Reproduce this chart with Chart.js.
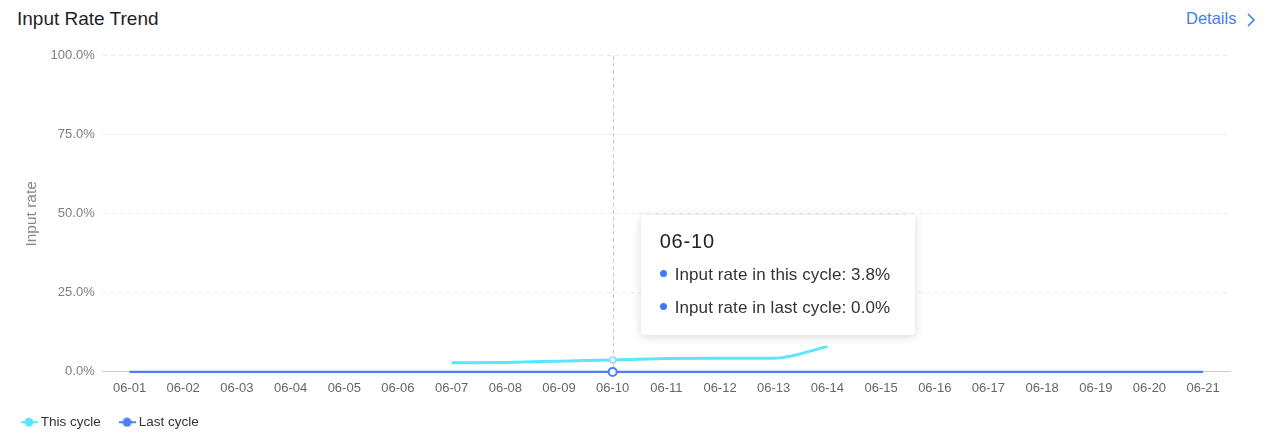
<!DOCTYPE html>
<html>
<head>
<meta charset="utf-8">
<script src="https://cdn.jsdelivr.net/npm/chart.js@4/dist/chart.umd.min.js"></script>
<style>
  html, body { margin:0; padding:0; background:#fff; width:1280px; height:445px; overflow:hidden; font-family:"Liberation Sans", Arial, sans-serif; }
  #title { position:absolute; left:17px; top:8px; font-size:19px; color:#1f1f1f; }
  #details { position:absolute; left:1186px; top:9px; font-size:16.5px; color:#3f7ef7; }
  #details svg { position:absolute; left:60px; top:3px; }
  #wrap { position:absolute; left:0; top:40px; width:1280px; height:405px; }
  #tip { position:absolute; background:#fff; border-radius:4px; box-shadow:0 2px 10px rgba(0,0,0,0.15); width:274px; height:120px; box-sizing:border-box; padding:15px 19px; pointer-events:none; display:none; }
  #tip .t { font-size:20px; color:#222; margin-bottom:11px; letter-spacing:0.8px; }
  #tip .r { font-size:17px; color:#333; height:33px; line-height:22px; letter-spacing:0.1px; }
  #tip .d { display:inline-block; width:7px; height:7px; border-radius:50%; background:#3a7bf6; margin-right:8px; vertical-align:middle; position:relative; top:-2px; }
</style>
</head>
<body>
<div id="title">Input Rate Trend</div>
<div id="details">Details<svg width="10" height="16" viewBox="0 0 10 16"><path d="M2 2 L8 8 L2 14" fill="none" stroke="#3f7ef7" stroke-width="1.6"/></svg></div>
<div id="wrap"><canvas id="c"></canvas><div id="tip"></div></div>
<script>
const categories = ["06-01","06-02","06-03","06-04","06-05","06-06","06-07","06-08","06-09","06-10","06-11","06-12","06-13","06-14","06-15","06-16","06-17","06-18","06-19","06-20","06-21"];
const thisCycle = [null,null,null,null,null,null,2.9,3.0,3.4,3.8,4.2,4.3,4.3,8.0,null,null,null,null,null,null,null];
const lastCycle = [0,0,0,0,0,0,0,0,0,0,0,0,0,0,0,0,0,0,0,0,0];
const yTicks = [0,25,50,75,100];
const seriesNames = ["This cycle","Last cycle"];
const tooltipNames = ["Input rate in this cycle","Input rate in last cycle"];
const activeIndex = 9;

const cThis = "#5ce5ff", cLast = "#4d7ef7";

function legendIcon(color){
  const cv = document.createElement('canvas');
  cv.width = 17; cv.height = 10;
  const x = cv.getContext('2d');
  x.strokeStyle = color; x.lineWidth = 2;
  x.beginPath(); x.moveTo(0,5); x.lineTo(17,5); x.stroke();
  x.fillStyle = color; x.beginPath(); x.arc(8.5,5,4.5,0,Math.PI*2); x.fill();
  return cv;
}
const icons = [legendIcon(cThis), legendIcon(cLast)];

const crosshair = {
  id:'crosshair',
  beforeDatasetsDraw(chart){
    const act = chart.tooltip.getActiveElements();
    if(!act.length) return;
    const x = act[0].element.x;
    const {top,bottom} = chart.chartArea;
    const ctx = chart.ctx;
    ctx.save();
    ctx.strokeStyle = "#c8c8c8"; ctx.lineWidth = 1; ctx.setLineDash([4,3]);
    ctx.beginPath(); ctx.moveTo(Math.round(x)+0.5, top); ctx.lineTo(Math.round(x)+0.5, bottom); ctx.stroke();
    ctx.restore();
  }
};

function external(ctx){
  const tt = ctx.tooltip, el = document.getElementById('tip');
  if(tt.opacity === 0){ el.style.display='none'; return; }
  const idx = tt.dataPoints[0].dataIndex;
  let h = '<div class="t">'+categories[idx]+'</div>';
  const vals = [thisCycle[idx], lastCycle[idx]];
  vals.forEach((v,i)=>{ h += '<div class="r"><span class="d"></span>'+tooltipNames[i]+': '+(v==null?'-':v.toFixed(1)+'%')+'</div>'; });
  el.innerHTML = h;
  const ca = ctx.chart.chartArea;
  el.style.display='block';
  el.style.left = (tt.caretX + 28) + 'px';
  el.style.top = (ca.top + (ca.bottom-ca.top)*0.5 + 1) + 'px';
}

const chart = new Chart(document.getElementById('c'), {
  type:'line',
  data:{
    labels:categories,
    datasets:[
      {label:seriesNames[0], data:thisCycle, borderColor:cThis, backgroundColor:cThis, borderWidth:3, pointStyle:'circle', pointRadius:0, pointHoverRadius:3, pointHoverBorderWidth:1.5, pointHoverBackgroundColor:'#fff', pointHoverBorderColor:'#8fd8ee', cubicInterpolationMode:'monotone', spanGaps:false, clip:6},
      {label:seriesNames[1], data:lastCycle, borderColor:cLast, backgroundColor:cLast, borderWidth:2.2, pointStyle:'circle', pointRadius:0, pointHoverRadius:4, pointHoverBorderWidth:2, pointHoverBackgroundColor:'#fff', pointHoverBorderColor:cLast, clip:6}
    ]
  },
  options:{
    responsive:true, maintainAspectRatio:false, animation:false,
    layout:{padding:{left:14,right:50,top:7,bottom:6}},
    interaction:{mode:'index',intersect:false},
    scales:{
      x:{offset:true, grid:{display:false, drawTicks:false}, border:{display:true,color:'#cccccc'},
         ticks:{color:'#666',font:{size:13,family:'"Liberation Sans", Arial'},padding:9,maxRotation:0,autoSkip:false}},
      y:{min:0,max:100,afterBuildTicks(s){ s.ticks = yTicks.map(v=>({value:v})); },
         grid:{color:'#e9e9e9', drawTicks:false}, border:{display:false, dash:[4,4]},
         ticks:{color:'#7f7f7f',font:{size:13,family:'"Liberation Sans", Arial'},padding:8,callback:v=>v.toFixed(1)+'%'},
         title:{display:true,text:'Input rate',color:'#888',font:{size:15.5,family:'"Liberation Sans", Arial'},padding:{top:8,bottom:2}}}
    },
    plugins:{
      legend:{position:'bottom',align:'start',labels:{usePointStyle:true,color:'#333',font:{size:13.5,family:'"Liberation Sans", Arial'},padding:10,boxWidth:10,
        generateLabels(chart){
          const items = Chart.defaults.plugins.legend.labels.generateLabels(chart);
          items.forEach((it,i)=>{ it.pointStyle = icons[i]; it.text = it.text + '\u00A0\u00A0\u00A0'; });
          return items;
        }}},
      tooltip:{enabled:false, external:external}
    }
  },
  plugins:[crosshair]
});
chart.setActiveElements([{datasetIndex:0,index:activeIndex},{datasetIndex:1,index:activeIndex}]);
chart.tooltip.setActiveElements([{datasetIndex:0,index:activeIndex},{datasetIndex:1,index:activeIndex}],{x:0,y:0});
chart.update();
</script>
</body>
</html>
